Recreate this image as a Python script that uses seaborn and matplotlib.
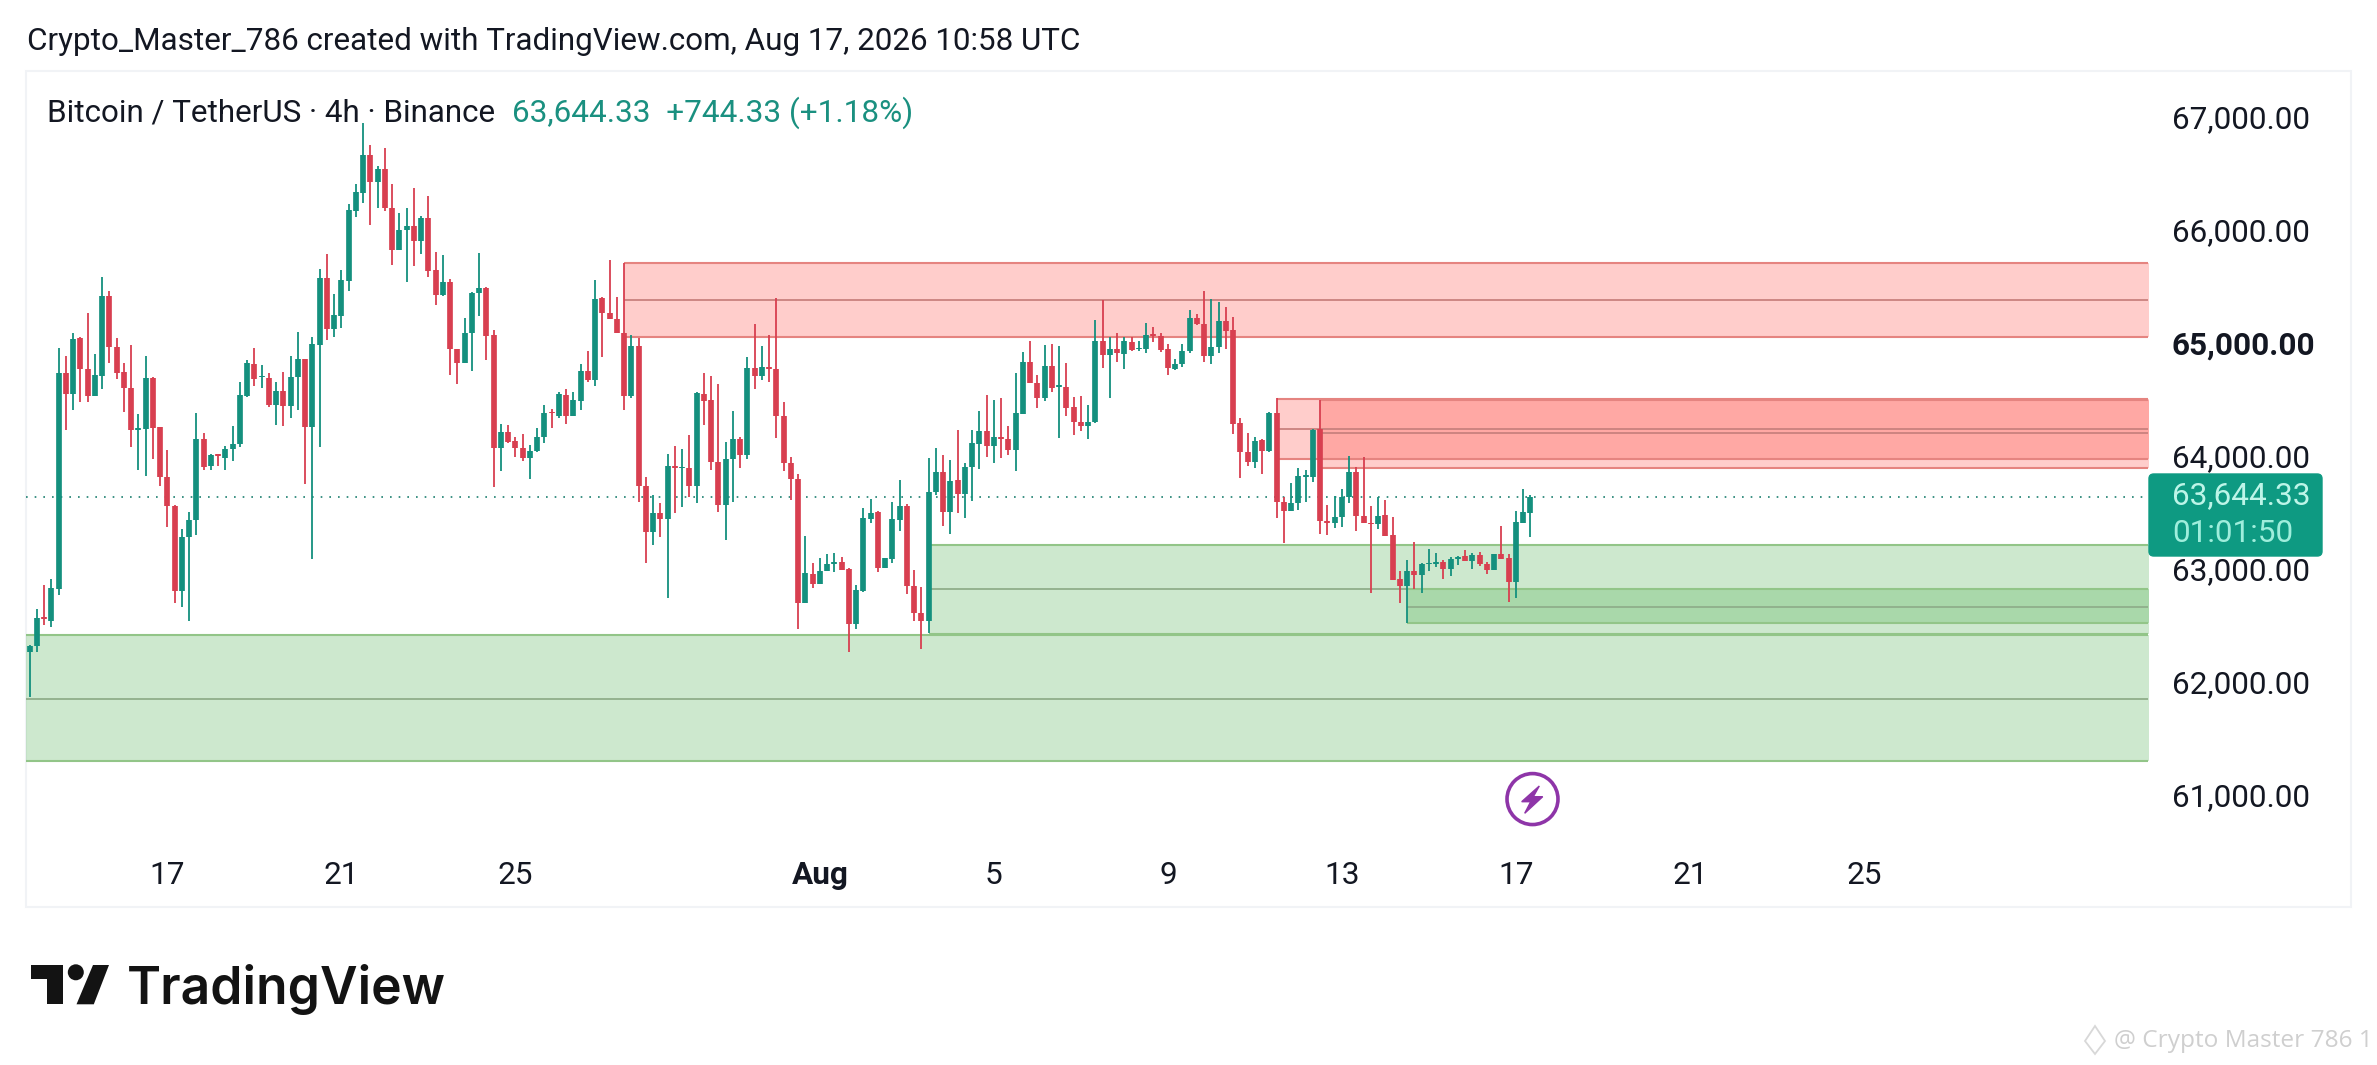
#!/usr/bin/python3
# BTC/USDT 4h candles with supply/demand zones, TradingView snapshot look
import numpy as np
import pandas as pd
import matplotlib
matplotlib.use("Agg")
import matplotlib.pyplot as plt
from matplotlib.patches import Polygon, Circle, FancyBboxPatch, Rectangle
from matplotlib.transforms import ScaledTranslation
import seaborn as sns

opens = [62277,62330,62583,62552,62836,64742,64561,65051,64783,64543,64720,65421,64972,64748,64615,64236,64252,64700,64268,63825,
         63566,62814,63288,63446,64157,63920,64024,63993,64068,64119,64543,64827,64704,64700,64457,64584,64451,64710,64868,64268,
         64994,65588,65137,65250,65560,66179,66337,66672,66432,66549,66202,65832,66006,66040,65914,66116,65652,65437,65547,64953,
         64836,65096,65453,65500,65080,64084,64220,64141,64078,63993,64056,64173,64400,64362,64552,64362,64498,64757,64685,65405,
         65276,65218,65094,64542,64982,63746,63339,63501,63448,63923,63905,63905,63746,64554,64504,63958,63575,63979,64156,64017,
         64784,64716,64793,64775,64365,63944,63802,62710,62964,62876,62994,63053,63067,63005,62522,62816,63451,63510,63014,63094,
         63442,63566,62861,62616,62551,63687,63864,63516,63796,63672,63914,64115,64227,64097,64174,64156,64061,64380,64837,64657,
         64525,64805,64622,64622,64442,64312,64277,64312,65026,64902,64952,64911,65020,64955,64955,65088,65070,64955,64778,64820,
         64941,65227,65174,64896,64971,65204,65125,64297,64041,63958,64150,64056,64392,63604,63525,63595,63825,63825,64244,63436,
         63412,63471,63643,63864,63480,63418,63404,63486,63309,62917,62861,62988,62958,63050,63050,63073,63008,63094,63123,63082,
         63132,63053,63000,63141,63103,62896,63418,63507]
highs = [62340,62659,62868,62918,64963,64893,65096,65064,65272,64909,65592,65465,65051,64836,64988,64378,64893,64710,64268,64062,
         63572,63361,63509,64388,64211,64024,64024,64100,64274,64663,64859,64963,64814,64742,64663,64751,64893,65105,64868,65058,
         65664,65794,65443,65652,66236,66413,66954,66758,66574,66732,66413,66157,66202,66378,66132,66306,65810,65788,65579,64953,
         65231,65459,65806,65506,65127,64290,64283,64179,64204,64110,64261,64464,64426,64574,64599,64574,64821,64937,65569,65415,
         65743,65419,65714,65079,65050,63820,63663,63590,64026,64097,64070,64194,64572,64740,64716,64643,64129,64407,64174,64882,
         65174,64982,65079,65404,64489,64003,63846,63300,63064,63103,63138,63147,63117,63014,62867,63545,63625,63525,63103,63604,
         63796,63584,62999,62852,63988,64076,64017,63973,64238,63944,64238,64407,64548,64504,64519,64274,64740,64926,65026,64725,
         64991,64997,64982,64828,64533,64539,64460,65212,65389,65065,65094,65065,65065,65026,65182,65153,65094,64999,64864,64999,
         65300,65265,65472,65395,65369,65331,65243,64348,64209,64174,64156,64401,64519,63648,63767,63899,63884,64244,64504,63575,
         63654,63716,64008,63908,63997,63566,63643,63619,63471,62994,63088,63244,63064,63185,63147,63088,63112,63123,63176,63153,
         63156,63073,63138,63389,63141,63522,63716,63664]
lows = [61876,62277,62514,62498,62782,64236,64419,64489,64489,64543,64606,64830,64694,64394,64087,63888,63835,63983,63746,63383,
        62710,62672,62545,63310,63888,63888,63920,63888,63961,64087,64527,64625,64615,64441,64283,64277,64347,64419,63762,63098,
        64087,65035,65064,65146,65468,66126,66249,66053,66205,66173,65699,65832,65547,65690,65794,65595,65342,65421,64726,64647,
        64836,64757,65247,64862,63737,63879,64126,63999,63961,63809,64040,64126,64258,64347,64293,64362,64416,64663,64631,64884,
        65218,65094,64416,64519,63604,63064,63221,63295,62749,63507,63560,63649,63595,64283,63885,63516,63265,63604,63905,63982,
        64604,64681,64666,64171,63879,63619,62474,62710,62843,62876,62994,62985,62999,62277,62477,62808,63418,62985,63014,63064,
        63345,62787,62548,62297,62439,63663,63389,63318,63507,63457,63613,63893,64003,63949,63988,64017,63879,64380,64657,64436,
        64495,64578,64171,64365,64194,64233,64162,64303,64790,64525,64843,64778,64941,64941,64917,65020,64932,64725,64770,64793,
        64917,65168,64843,64823,64924,64956,64204,63811,63923,63899,63849,64047,63457,63241,63525,63530,63604,63775,63318,63309,
        63374,63383,63595,63348,63412,62799,63362,63303,62911,62705,62527,62828,62799,62994,63029,62920,62949,63044,63082,63008,
        63038,62964,63000,63100,62713,62755,63418,63294]
closes = [62330,62571,62568,62842,64742,64561,65042,64783,64543,64726,65421,64972,64742,64615,64236,64258,64700,64258,63825,63563,
          62814,63288,63446,64157,63914,64015,64012,64068,64119,64546,64836,64694,64713,64457,64584,64451,64710,64868,64268,65001,
          65588,65137,65257,65563,66186,66344,66672,66432,66549,66202,65832,66006,66040,65914,66116,65649,65437,65547,64953,64836,
          65096,65453,65494,65073,64084,64220,64132,64078,63990,64056,64173,64388,64388,64561,64362,64505,64757,64678,65396,65276,
          65218,65094,64542,64982,63746,63339,63501,63448,63923,63899,63914,63746,64563,64495,63958,63575,63979,64156,64017,64784,
          64716,64793,64775,64365,63944,63802,62710,62970,62876,62994,63050,63070,62999,62522,62822,63457,63501,63014,63103,63448,
          63566,62861,62616,62551,63687,63864,63516,63790,63672,63914,64120,64227,64097,64174,64156,64061,64386,64837,64657,64525,
          64805,64613,64634,64436,64312,64274,64312,65026,64902,64952,64917,65026,64947,64967,65079,65070,64947,64784,64823,64941,
          65227,65174,64896,64976,65204,65119,64293,64041,63958,64144,64056,64392,63604,63525,63595,63831,63840,64238,63436,63412,
          63471,63643,63864,63480,63412,63407,63480,63303,62911,62861,62991,62958,63050,63061,63067,63008,63100,63117,63082,63132,
          63050,63000,63138,63100,62896,63421,63510,63644]

zone_start = [82, 172, 178, -0.5, 124, 190]
zone_top = [65719, 64510, 64504, 62425, 63224, 62828]
zone_mid = [65389, 64247, 64209, 61860, 62831, 62672]
zone_bottom = [65059, 63982, 63899, 61310, 62433, 62530]
zone_kind = ["red", "red", "red", "green", "green", "green"]

price_ticks = [61000, 62000, 63000, 64000, 65000, 66000, 67000]
price_labels = ["61,000.00", "62,000.00", "63,000.00", "64,000.00", "65,000.00", "66,000.00", "67,000.00"]
date_ticks = [19, 43, 67, 109, 133, 157, 181, 205, 229, 253]
date_labels = ["17", "21", "25", "Aug", "5", "9", "13", "17", "21", "25"]
last_price = 63644.33

UP = "#14907E"
DOWN = "#D83F50"
W, H = 2377, 1065


def fx(x):
    return x / W


def fy(y):
    return 1 - y / H


sns.set_theme(style="white", rc={"axes.facecolor": "none"})
plt.rcParams["font.family"] = ["Roboto", "DejaVu Sans"]

fig = plt.figure(figsize=(W / 100, H / 100), dpi=100, facecolor="white")

# chart frame, behind the axes
fig.patches.append(Rectangle((fx(26), fy(907)), fx(2351 - 26), (907 - 71) / H, transform=fig.transFigure,
                             facecolor="white", edgecolor="#F1F3F6", lw=1.5, zorder=-1))

ax = fig.add_axes([fx(26), fy(848), fx(2148 - 26), (848 - 71) / H])

df = pd.DataFrame({"i": np.arange(len(opens)), "open": opens, "high": highs, "low": lows, "close": closes})
df["dir"] = np.where(df["close"] >= df["open"], "up", "down")
wicks = df.melt(id_vars=["i", "dir"], value_vars=["high", "low"], value_name="price")
bodies = df.melt(id_vars=["i", "dir"], value_vars=["open", "close"], value_name="price")

# zones go under the candles
for s, t, m, b, k in zip(zone_start, zone_top, zone_mid, zone_bottom, zone_kind):
    if k == "red":
        fill, edge, middle = "#FF3B30", "#E58480", "#C9817E"
        a = 0.25
    else:
        fill, edge, middle = "#4CAF50", "#92C588", "#8FAE8A"
        a = 0.28
    ax.fill_between([s, 293], [b, b], [t, t], color=fill, alpha=a, lw=0, zorder=1)
    ax.plot([s, 293], [t, t], color=edge, lw=1.5, zorder=1.5, solid_capstyle="butt")
    ax.plot([s, 293], [b, b], color=edge, lw=1.5, zorder=1.5, solid_capstyle="butt")
    ax.plot([s, 293], [m, m], color=middle, lw=1.3, zorder=1.5, solid_capstyle="butt")

pal = {"up": UP, "down": DOWN}
sns.lineplot(data=wicks, x="i", y="price", hue="dir", units="i", estimator=None, palette=pal,
             lw=1.3, legend=False, ax=ax, solid_capstyle="butt", zorder=3)
sns.lineplot(data=bodies, x="i", y="price", hue="dir", units="i", estimator=None, palette=pal,
             lw=4.1, legend=False, ax=ax, solid_capstyle="butt", zorder=4)

ax.axhline(last_price, color="#1C7F70", lw=1.2, ls=(0, (1, 4.2)), zorder=2)

# lightning marker below the last candles
sns.scatterplot(x=[207.3], y=[60973], s=1347, facecolor="none", edgecolor="#8E35A8", linewidth=2.6,
                legend=False, ax=ax, zorder=5)
bolt = [(1539.3, 786), (1521.7, 801.7), (1530.7, 801.7), (1524.7, 813.3), (1542.7, 796.7), (1533.3, 796.7)]
fig.patches.append(Polygon([(fx(x), fy(y)) for x, y in bolt], transform=fig.transFigure, facecolor="#8E35A8",
                           edgecolor="#8E35A8", lw=1, zorder=6))

ax.set_xlim(-0.5, 292.2)
ax.set_ylim(60540, 67416)
ax.set_xlabel("")
ax.set_ylabel("")
ax.yaxis.tick_right()
ax.set_yticks(price_ticks, price_labels)
ax.set_xticks(date_ticks, date_labels)
ax.tick_params(axis="y", length=0, pad=17, labelsize=22.7, labelcolor="#131722")
ax.tick_params(axis="x", length=0, pad=9, labelsize=22.7, labelcolor="#131722")
ax.get_yticklabels()[4].set_fontweight("bold")
ax.get_xticklabels()[3].set_fontweight("bold")
# price labels sit a touch higher than the tick position
nudge = ScaledTranslation(0, 1.5 / 100, fig.dpi_scale_trans)
for lab in ax.get_yticklabels():
    lab.set_transform(lab.get_transform() + nudge)
sns.despine(ax=ax, left=True, bottom=True)

# header
fig.text(fx(27), fy(41), "Crypto_Master_786 created with TradingView.com, Aug 17, 2026 10:58 UTC",
         fontsize=22.55, color="#131722", va="center", ha="left")
fig.text(fx(47), fy(112.5), "Bitcoin / TetherUS · 4h · Binance", fontsize=22.6, color="#131722", va="center", ha="left")
fig.text(fx(512), fy(112.5), "63,644.33  +744.33 (+1.18%)", fontsize=22.65, color="#1A9080", va="center", ha="left")

# last price tag
fig.patches.append(FancyBboxPatch((fx(2149), fy(556)), fx(173), 82 / H, transform=fig.transFigure,
                                  boxstyle="round,pad=0,rounding_size=0.002", facecolor="#0E9A82", edgecolor="#0E9A82",
                                  lw=1, zorder=7, mutation_aspect=2.2))
fig.text(fx(2172), fy(496), "63,644.33", fontsize=22.7, color="#BDF5E8", va="center", ha="left", zorder=8)
fig.text(fx(2172), fy(533), "01:01:50", fontsize=22.7, color="#9FEEDC", va="center", ha="left", zorder=8)

# logo
t_mark = [(31.4, 965), (63.1, 965), (63.1, 1004.3), (47.1, 1004.3), (47.1, 979.3), (31.4, 979.3)]
slash = [(76.5, 1004.3), (93.8, 1004.3), (109, 965), (93, 965)]
fig.patches.append(Polygon([(fx(x), fy(y)) for x, y in t_mark], transform=fig.transFigure, facecolor="#131313", lw=0))
fig.patches.append(Polygon([(fx(x), fy(y)) for x, y in slash], transform=fig.transFigure, facecolor="#131313", lw=0))
fig.patches.append(Circle((75.8, H - 972.3), 8, transform=None, facecolor="#131313", lw=0))
fig.text(fx(127), fy(1004.3), "TradingView", fontsize=37.2, family="Inter", fontweight="semibold",
         color="#131313", va="baseline", ha="left")

# watermark, runs off the right edge
fig.text(fx(2114), fy(1041), "@ Crypto Master 786 1", fontsize=17.6, family="Open Sans", color="#CFCFCF", va="center", ha="left")
diamond = [(2095, 1026), (2105, 1041), (2095, 1054), (2085, 1041)]
fig.patches.append(Polygon([(fx(x), fy(y)) for x, y in diamond], transform=fig.transFigure, facecolor="none",
                           edgecolor="#D8D8D8", lw=1.3))

fig.savefig("out.png", dpi=100)
